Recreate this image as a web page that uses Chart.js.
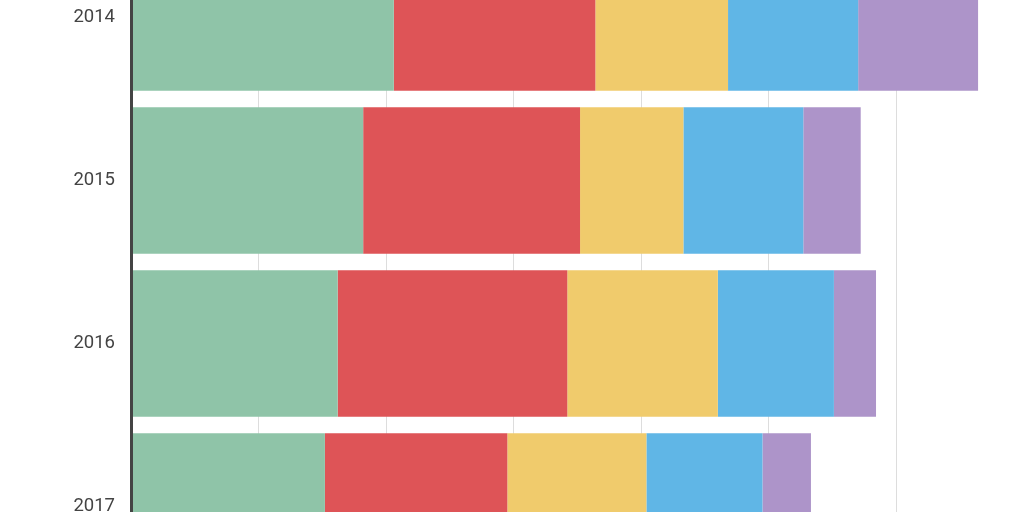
<!DOCTYPE html>
<html>
<head>
<meta charset="utf-8">
<script src="https://cdn.jsdelivr.net/npm/chart.js@4"></script>
<style>
  html, body { margin: 0; padding: 0; background: #fff; overflow: hidden; }
  body { width: 1024px; height: 512px; position: relative; }
  #wrap { position: absolute; left: 0; top: -64.5px; width: 1024px; height: 652px; }
</style>
</head>
<body>
<div id="wrap"><canvas id="chart"></canvas></div>
<script>
const years = ["2014", "2015", "2016", "2017"];

const seriesA = [20.6, 18.2, 16.2, 15.2];
const seriesB = [15.8, 17.0, 18.0, 14.3];
const seriesC = [10.4, 8.1, 11.8, 10.9];
const seriesD = [10.2, 9.4, 9.1, 9.1];
const seriesE = [9.4, 4.5, 3.3, 3.8];

const colors = ["#8fc4a8", "#de5457", "#f0cb6c", "#60b6e6", "#ad94c9"];

// axis line drawn on top of the bars, like the reference
const axisLine = {
  id: "axisLine",
  afterDatasetsDraw(chart) {
    const { ctx, chartArea } = chart;
    ctx.save();
    ctx.strokeStyle = "#444444";
    ctx.lineWidth = 3;
    ctx.beginPath();
    ctx.moveTo(chartArea.left + 0.5, chartArea.top);
    ctx.lineTo(chartArea.left + 0.5, chartArea.bottom);
    ctx.stroke();
    ctx.restore();
  }
};

const ctx = document.getElementById("chart").getContext("2d");
new Chart(ctx, {
  type: "bar",
  data: {
    labels: years,
    datasets: [seriesA, seriesB, seriesC, seriesD, seriesE].map((d, i) => ({
      label: "Series " + (i + 1),
      data: d,
      backgroundColor: colors[i],
      borderWidth: 0,
      barPercentage: 0.9,
      categoryPercentage: 1.0
    }))
  },
  options: {
    indexAxis: "y",
    responsive: true,
    maintainAspectRatio: false,
    animation: false,
    layout: { padding: 0 },
    plugins: { legend: { display: false }, tooltip: { enabled: false } },
    scales: {
      x: {
        stacked: true,
        min: 0,
        max: 70,
        afterFit: (scale) => {
          scale.height = 0;
          scale.paddingLeft = 0;
          scale.paddingRight = 0;
        },
        ticks: { display: false, stepSize: 10 },
        border: { display: false },
        grid: { color: "#dddddd", lineWidth: 1, drawTicks: false }
      },
      y: {
        stacked: true,
        afterFit: (scale) => {
          scale.width = 131;
          scale.paddingTop = 0;
          scale.paddingBottom = 0;
        },
        ticks: { color: "#444444", font: { family: "Roboto", size: 18.5 }, padding: 16 },
        border: { display: false },
        grid: { display: false, drawTicks: false }
      }
    }
  },
  plugins: [axisLine]
});
</script>
</body>
</html>
